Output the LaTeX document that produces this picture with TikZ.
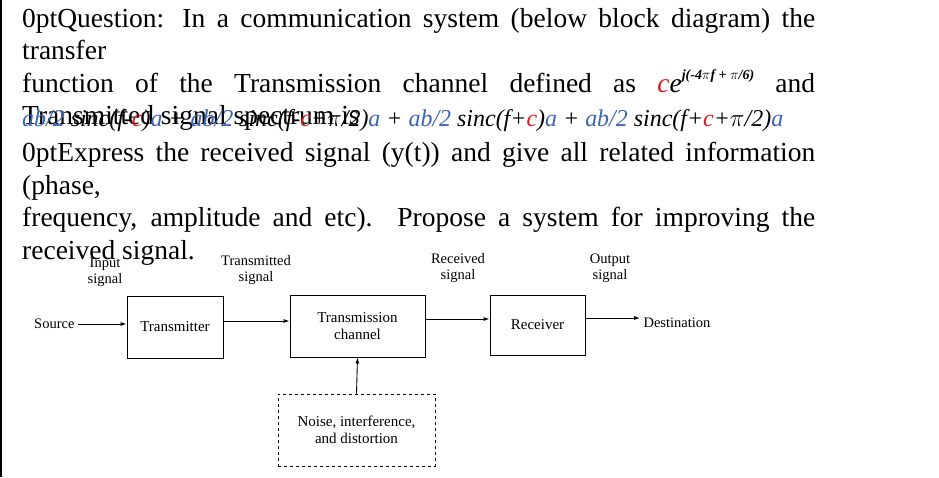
\documentclass[tikz,border=0pt]{standalone}
\usepackage{fontspec}
\setmainfont{Liberation Serif}
\usetikzlibrary{arrows.meta}
\definecolor{fb}{RGB}{60,100,180}
\definecolor{fr}{RGB}{215,30,30}
\definecolor{fg}{RGB}{40,150,60}
\begin{document}
\begin{tikzpicture}[x=1pt,y=-1pt,
  blk/.style={draw,line width=0.9pt,minimum width=#1,minimum height=62pt,align=center,font=\fontsize{15}{17}\selectfont},
  lbl/.style={align=center,font=\fontsize{14.5}{16}\selectfont},
  para/.style={anchor=north west,inner sep=0,text width=793pt,align=justify,font=\fontsize{27.5}{32.5}\selectfont\hyphenpenalty=10000\exhyphenpenalty=10000},
  arr/.style={-{Latex[length=6pt,width=4pt]},line width=0.9pt}]
\useasboundingbox (0,0) rectangle (939,477);
\fill[white] (0,0) rectangle (939,477);
\draw[line width=1.5pt] (1,0) -- (1,477);
\node[para] (q) at (22,8)
 {Question: In a communication system (below block diagram) the transfer\linebreak function of the Transmission channel defined as \textit{\textcolor{fr}{c}e\raisebox{0.45em}{\fontsize{14}{14}\selectfont\textbf{\textit{j(-4$\pi$f + $\pi$/6)}}}} and\linebreak Transmitted signal spectrum is};
\node[anchor=west,inner sep=0] (f) at (22,121)
 {\resizebox{761pt}{17pt}{\fontsize{20}{22}\selectfont\itshape\textcolor{fb}{ab/2} sinc(f-\textcolor{fr}{c})\textcolor{fb}{a} + \textcolor{fb}{ab/2} sinc(f-\textcolor{fr}{c}+$\pi$/2)\textcolor{fb}{a} + \textcolor{fb}{ab/2} sinc(f+\textcolor{fr}{c})\textcolor{fb}{a} + \textcolor{fb}{ab/2} sinc(f+\textcolor{fr}{c}+$\pi$/2)\textcolor{fb}{a}}};
\node[para] (e) at (22,142)
 {Express the received signal (y(t)) and give all related information (phase,\linebreak frequency, amplitude and etc). Propose a system for improving the\linebreak received signal.};
\node[blk=96pt] (tx) at (175,327) {Transmitter};
\node[blk=135pt] (ch) at (357.5,326) {Transmission\\channel};
\node[blk=95pt,minimum height=60pt] (rx) at (537.5,325) {Receiver};
\node[draw,dashed,line width=0.9pt,minimum width=157pt,minimum height=72pt,align=center,font=\fontsize{15}{17}\selectfont] (n) at (356.5,430) {Noise, interference,\\and distortion};
\node[lbl,anchor=east] (src) at (78,324) {Source};
\node[lbl,anchor=west] (dst) at (640,323) {Destination};
\node[lbl] (l1) at (105,272) {Input\\signal};
\node[lbl] (l2) at (256,270) {Transmitted\\signal};
\node[lbl] (l3) at (458,268) {Received\\signal};
\node[lbl] (l4) at (610,268) {Output\\signal};
\draw[arr] (src.east) -- (tx.west|-src.east);
\draw[arr] (tx.east|-0,321) -- (ch.west|-0,321);
\draw[arr] (ch.east|-0,319) -- (rx.west|-0,319);
\draw[arr] (rx.east|-0,318) -- (dst.west|-0,318);
\draw[arr] (n.north) -- (ch.south);
\end{tikzpicture}
\end{document}
